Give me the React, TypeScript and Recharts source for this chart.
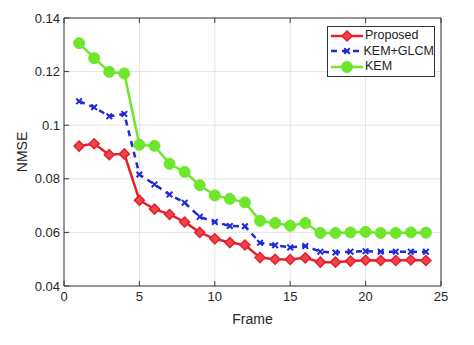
import React from "react";
import { LineChart, Line, XAxis, YAxis, CartesianGrid, Label } from "recharts";

const frames = [1, 2, 3, 4, 5, 6, 7, 8, 9, 10, 11, 12, 13, 14, 15, 16, 17, 18, 19, 20, 21, 22, 23, 24];
const proposed = [0.0922, 0.0931, 0.089, 0.0893, 0.072, 0.0687, 0.0667, 0.0639, 0.06, 0.0576, 0.0562, 0.0553, 0.0506, 0.05, 0.0499, 0.0505, 0.0489, 0.0489, 0.0493, 0.0496, 0.0495, 0.0495, 0.0497, 0.0495];
const kemGlcm = [0.1089, 0.1067, 0.1033, 0.1042, 0.0816, 0.0779, 0.0741, 0.0711, 0.0658, 0.0639, 0.0624, 0.0623, 0.0561, 0.0552, 0.0544, 0.0549, 0.0528, 0.0525, 0.0528, 0.053, 0.0528, 0.0528, 0.0528, 0.0528];
const kem = [0.1306, 0.125, 0.1199, 0.1193, 0.0927, 0.0923, 0.0856, 0.0826, 0.0776, 0.0738, 0.0725, 0.0712, 0.0643, 0.0635, 0.0625, 0.0635, 0.0598, 0.0598, 0.06, 0.0602, 0.0598, 0.0598, 0.06, 0.0599];

const xTicks = [0, 5, 10, 15, 20, 25];
const yTicks = [0.04, 0.06, 0.08, 0.1, 0.12, 0.14];

const data = frames.map((f, i) => ({ frame: f, proposed: proposed[i], kemGlcm: kemGlcm[i], kem: kem[i] }));

const RED = "#e3202b";
const BLUE = "#1d2ad8";
const GREEN = "#6ee62c";
const AXIS = "#3a3a3a";
const FONT = "'Liberation Sans', Arial, sans-serif";

const Diamond = (props: any) => {
  const { cx, cy } = props;
  if (cx == null || cy == null) return null;
  const r = 5;
  return (
    <polygon
      points={`${cx},${cy - r} ${cx + r},${cy} ${cx},${cy + r} ${cx - r},${cy}`}
      fill="#f0444c"
      stroke={RED}
      strokeWidth={1.5}
    />
  );
};

const Cross = (props: any) => {
  const { cx, cy } = props;
  if (cx == null || cy == null) return null;
  const r = 2.8;
  return (
    <g stroke={BLUE} strokeWidth={2}>
      <line x1={cx - r} y1={cy - r} x2={cx + r} y2={cy + r} />
      <line x1={cx - r} y1={cy + r} x2={cx + r} y2={cy - r} />
    </g>
  );
};

const Circle = (props: any) => {
  const { cx, cy } = props;
  if (cx == null || cy == null) return null;
  return <circle cx={cx} cy={cy} r={5.5} fill={GREEN} stroke={GREEN} />;
};

const legendItems = [
  { name: "Proposed", color: RED, marker: "diamond", dash: "" },
  { name: "KEM+GLCM", color: BLUE, marker: "cross", dash: "6 5" },
  { name: "KEM", color: GREEN, marker: "circle", dash: "" },
];

const LegendBox = () => (
  <div
    style={{
      position: "absolute",
      left: 327,
      top: 26,
      width: 104,
      border: "1px solid #333",
      background: "#fff",
      padding: "1px 0 1px 2px",
      fontFamily: FONT,
      fontSize: 12.5,
      color: "#222",
      lineHeight: "15px",
    }}
  >
    {legendItems.map((it) => (
      <div key={it.name} style={{ display: "flex", alignItems: "center", height: 15.5 }}>
        <svg width={34} height={14} style={{ marginRight: 1 }}>
          <line x1={1} y1={7} x2={33} y2={7} stroke={it.color} strokeWidth={2.5} strokeDasharray={it.dash} />
          {it.marker === "diamond" && <Diamond cx={17} cy={7} />}
          {it.marker === "cross" && <Cross cx={17} cy={7} />}
          {it.marker === "circle" && <Circle cx={17} cy={7} />}
        </svg>
        <span>{it.name}</span>
      </div>
    ))}
  </div>
);

export default function App() {
  return (
    <div style={{ position: "absolute", left: 0, top: 0, width: 474, height: 345, background: "#fff" }}>
      <LineChart width={474} height={345} data={data} margin={{ top: 17, right: 32, left: 14, bottom: 29 }}>
        <CartesianGrid stroke="#e4e4e4" strokeWidth={1} />
        <XAxis
          dataKey="frame"
          type="number"
          domain={[0, 25]}
          ticks={xTicks}
          allowDataOverflow
          stroke={AXIS}
          tickSize={-5}
          tickMargin={11}
          height={30}
          tick={{ fill: "#262626", fontSize: 13, fontFamily: FONT }}
        >
          <Label value="Frame" position="insideBottom" offset={-8} style={{ fill: "#262626", fontSize: 14, fontFamily: FONT }} />
        </XAxis>
        <XAxis
          xAxisId="top"
          orientation="top"
          dataKey="frame"
          type="number"
          domain={[0, 25]}
          ticks={xTicks}
          stroke={AXIS}
          tickSize={-5}
          tickFormatter={() => ""}
          height={1}
        />
        <YAxis
          type="number"
          domain={[0.04, 0.14]}
          ticks={yTicks}
          allowDataOverflow
          stroke={AXIS}
          tickSize={-5}
          tickMargin={9}
          width={50}
          tickFormatter={(v: number) => String(v)}
          tick={{ fill: "#262626", fontSize: 13, fontFamily: FONT }}
        >
          <Label value="NMSE" angle={-90} position="insideLeft" offset={8} style={{ fill: "#262626", fontSize: 14, fontFamily: FONT, textAnchor: "middle" }} />
        </YAxis>
        <YAxis
          yAxisId="right"
          orientation="right"
          type="number"
          domain={[0.04, 0.14]}
          ticks={yTicks}
          stroke={AXIS}
          tickSize={-5}
          tickFormatter={() => ""}
          width={1}
        />
        <Line
          dataKey="proposed"
          name="Proposed"
          stroke={RED}
          strokeWidth={2.5}
          dot={<Diamond />}
          isAnimationActive={false}
        />
        <Line
          dataKey="kemGlcm"
          name="KEM+GLCM"
          stroke={BLUE}
          strokeWidth={2.5}
          strokeDasharray="6 5"
          dot={<Cross />}
          isAnimationActive={false}
        />
        <Line
          dataKey="kem"
          name="KEM"
          stroke={GREEN}
          strokeWidth={2.5}
          dot={<Circle />}
          isAnimationActive={false}
        />
      </LineChart>
      <LegendBox />
    </div>
  );
}
